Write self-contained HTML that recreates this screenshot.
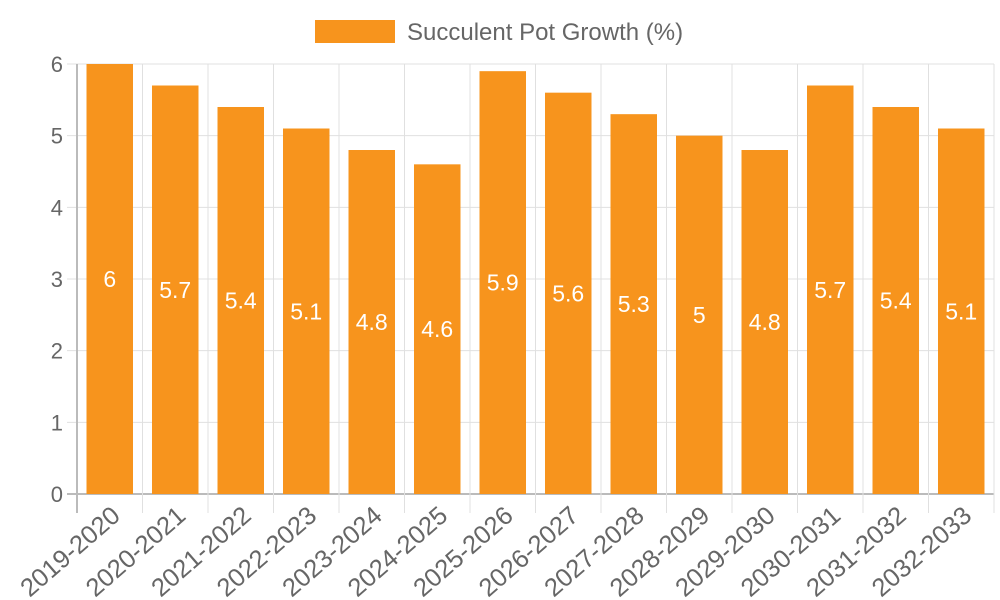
<!DOCTYPE html>
<html><head><meta charset="utf-8"><style>body{margin:0;background:#fff}svg{display:block;font-family:"Liberation Sans",Arial,sans-serif}</style></head>
<body>
<svg id="c" width="1000" height="600">
<rect x="315" y="20" width="80" height="23" fill="#f7941d"/>
<text x="407" y="40" font-size="24" fill="#666">Succulent Pot Growth (%)</text>
<g id="grid"></g><g id="bars"></g><g id="axes"></g>
</svg>
<script>
const categories=["2019-2020","2020-2021","2021-2022","2022-2023","2023-2024","2024-2025","2025-2026","2026-2027","2027-2028","2028-2029","2029-2030","2030-2031","2031-2032","2032-2033"];
const values=[6,5.7,5.4,5.1,4.8,4.6,5.9,5.6,5.3,5,4.8,5.7,5.4,5.1];
const yTicks=[0,1,2,3,4,5,6];
const NS="http://www.w3.org/2000/svg";
const L=77,R=994,T=64,B=494,yMax=6;
const cw=(R-L)/categories.length;
const y=v=>B-(v/yMax)*(B-T);
const x=i=>L+cw*i;
function mk(t,a,p){const e=document.createElementNS(NS,t);for(const k in a)e.setAttribute(k,a[k]);p.appendChild(e);return e;}
const grid=document.getElementById('grid'),bars=document.getElementById('bars'),axes=document.getElementById('axes');
yTicks.forEach(v=>{
  const l=mk('line',{x1:L-10,x2:R,y1:y(v),y2:y(v),stroke:v===0?'#bbb':'#e0e0e0','stroke-width':v===0?2:1},grid);
  
  
  const t=mk('text',{x:L-14,y:y(v)+8,'text-anchor':'end','font-size':22,fill:'#666'},axes);
  t.textContent=v;
  
  
});
for(let i=0;i<=categories.length;i++){
  const l=mk('line',{x1:x(i),x2:x(i),y1:T,y2:B+19,stroke:i===0?'#bbb':'#e0e0e0','stroke-width':i===0?2:1},grid);
  
  
}
categories.forEach((c,i)=>{
  const cx=x(i)+cw/2,bw=cw*0.71;
  const r=mk('rect',{x:cx-bw/2,y:y(values[i]),width:bw,height:B-y(values[i]),fill:'#f7941d'},bars);
  
  
  const vt=mk('text',{x:cx,y:(y(values[i])+B)/2+8,'text-anchor':'middle','font-size':23,fill:'#fff'},bars);
  vt.textContent=values[i];
  
  
  const t=mk('text',{x:cx+12,y:518,'text-anchor':'end','font-size':25.5,fill:'#666',transform:`rotate(-41 ${cx+12} 518)`},axes);
  t.textContent=c;
  
  
});
</script>
</body></html>
